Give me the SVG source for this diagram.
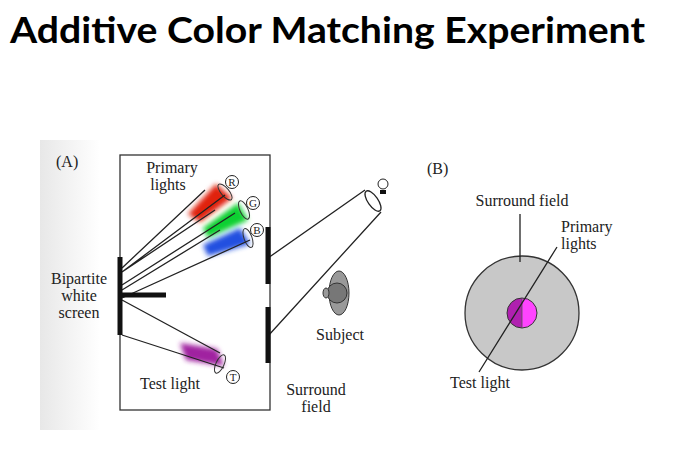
<svg xmlns="http://www.w3.org/2000/svg" width="680" height="455" viewBox="0 0 680 455">
<defs>
<style>
.t{font-family:"Liberation Serif",serif;font-size:16px;fill:#222}
.c{font-family:"Liberation Serif",serif;font-size:11px;fill:#222}
.l{stroke:#222;stroke-width:1.3;fill:none}
.bar{stroke:#111;stroke-width:5}
</style>
<filter id="bl"><feGaussianBlur stdDeviation="2.5"/></filter>
<linearGradient id="pg" x1="0" x2="1"><stop offset="0" stop-color="#d8d8d8"/><stop offset="1" stop-color="#ffffff"/></linearGradient>
</defs>
<rect width="680" height="455" fill="#fff"/>
<rect x="40" y="140" width="60" height="290" fill="url(#pg)" opacity="0.6"/>
<text x="10" y="43" font-family="Lato,'Liberation Sans',sans-serif" font-weight="bold" font-size="37" textLength="635" lengthAdjust="spacingAndGlyphs" fill="#000">Additive Color Matching Experiment</text>
<g id="panelA">
<rect x="120" y="155" width="150" height="255" fill="none" stroke="#333" stroke-width="1.3"/>
<text class="t" x="56" y="167">(A)</text>
</g>
<g id="lights">
<g filter="url(#bl)">
<path d="M188,214 L216,184 L232,198 L200,222 Z" fill="#e02010"/>
<path d="M203,228 L238,203 L248,220 L208,238 Z" fill="#10d030"/>
<path d="M203,245 L240,228 L250,244 L208,256 Z" fill="#2050e0"/>
<path d="M180,343 L217,349 L224,366 L186,360 Z" fill="#a020a0"/>
</g>
<ellipse cx="225" cy="192" rx="4" ry="10" transform="rotate(-40 225 192)" fill="none" stroke="#333"/>
<ellipse cx="244" cy="210" rx="4" ry="10" transform="rotate(-25 244 210)" fill="none" stroke="#333"/>
<ellipse cx="248" cy="238" rx="4" ry="10" transform="rotate(-20 248 238)" fill="none" stroke="#333"/>
<ellipse cx="220" cy="364" rx="4" ry="10" transform="rotate(25 220 364)" fill="none" stroke="#333"/>
<circle cx="232" cy="182" r="6.5" fill="#fff" stroke="#222"/><text class="c" x="232" y="186" text-anchor="middle">R</text>
<circle cx="253" cy="203" r="6.5" fill="#fff" stroke="#222"/><text class="c" x="253" y="207" text-anchor="middle">G</text>
<circle cx="257" cy="230" r="6.5" fill="#fff" stroke="#222"/><text class="c" x="257" y="234" text-anchor="middle">B</text>
<circle cx="233" cy="377" r="6.5" fill="#fff" stroke="#222"/><text class="c" x="233" y="381" text-anchor="middle">T</text>
<text class="t" x="172" y="173" text-anchor="middle">Primary</text>
<text class="t" x="168" y="190" text-anchor="middle">lights</text>
<text class="t" x="170" y="389" text-anchor="middle">Test light</text>
</g>
<g id="connectors">
<path class="l" d="M122,268 L205,190 M122,272 L225,195 M122,272 L215,210 M122,285 L235,213 M122,290 L220,230 M122,298 L250,240 M122,335 L224,368 M122,300 L220,353"/>
<path class="l" d="M268,258 L365,190 M268,336 L381,212"/>
</g>
<g id="screen">
<line class="bar" x1="120" y1="257" x2="120" y2="335"/>
<line class="bar" x1="120" y1="295" x2="166" y2="295"/>
<text class="t" x="79" y="284" text-anchor="middle">Bipartite</text>
<text class="t" x="79" y="301" text-anchor="middle">white</text>
<text class="t" x="79" y="318" text-anchor="middle">screen</text>
</g>
<g id="surround">
<line class="bar" x1="268" y1="227" x2="268" y2="284"/>
<line class="bar" x1="268" y1="307" x2="268" y2="363"/>
<text class="t" x="316" y="395" text-anchor="middle">Surround</text>
<text class="t" x="316" y="412" text-anchor="middle">field</text>
</g>
<g id="lamp">
<ellipse cx="373" cy="201" rx="5" ry="12" transform="rotate(-35 373 201)" fill="#fff" stroke="#222" stroke-width="1.3"/>
<circle cx="383" cy="184" r="5" fill="#fff" stroke="#222"/>
<rect x="380" y="190" width="6" height="4" fill="#111"/>
</g>
<g id="subject">
<ellipse cx="339" cy="293" rx="10" ry="22" fill="#999" stroke="#333"/>
<circle cx="337" cy="293" r="10" fill="#777" stroke="#333"/>
<ellipse cx="326" cy="293" rx="3" ry="5" fill="#999" stroke="#333"/>
<text class="t" x="340" y="340" text-anchor="middle">Subject</text>
</g>
<g id="panelB">
<text class="t" x="427" y="174">(B)</text>
<circle cx="522" cy="313" r="57" fill="#c8c8c8" stroke="#333" stroke-width="1.3"/>
<path d="M522,298 A15,15 0 0 0 522,328 Z" fill="#b020b0"/>
<path d="M522,298 A15,15 0 0 1 522,328 Z" fill="#ff44ff"/>
<circle cx="522" cy="313" r="15" fill="none" stroke="#333"/>
<line x1="522" y1="298" x2="522" y2="328" stroke="#555" stroke-width="0.8"/>
<path class="l" d="M520,214 L520,262 M557,247 L479,372"/>
<text class="t" x="522" y="206" text-anchor="middle">Surround field</text>
<text class="t" x="561" y="232">Primary</text>
<text class="t" x="561" y="249">lights</text>
<text class="t" x="480" y="388" text-anchor="middle">Test light</text>
</g>
</svg>
